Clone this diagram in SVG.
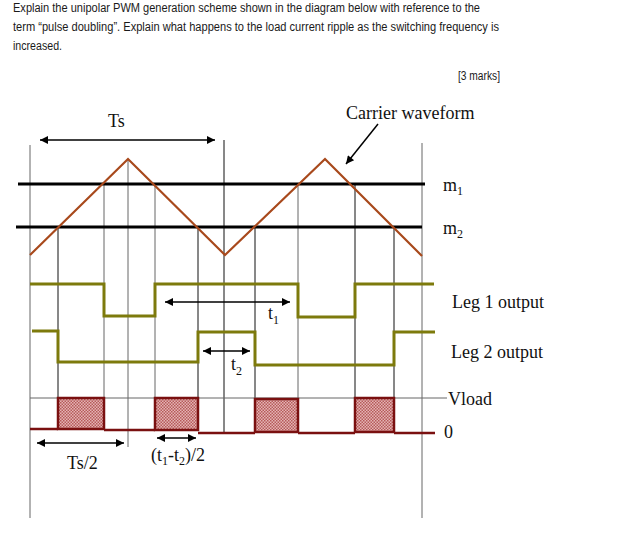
<svg xmlns="http://www.w3.org/2000/svg" width="642" height="546" viewBox="0 0 642 546">
<style>
.hdr{font-family:"Liberation Sans",Arial,sans-serif;font-size:12.5px;fill:#1a1a1a}
.lbl{font-family:"Liberation Serif","Times New Roman",serif;font-size:18px;fill:#111}
.sub{font-size:12px}
.vg{stroke:#666;stroke-width:1;fill:none}
.vb{stroke:#111;stroke-width:1;fill:none}
.mod{stroke:#000;stroke-width:3;fill:none}
.leg{stroke:#7d7a0c;stroke-width:3;fill:none}
.car{stroke:#a8491c;stroke-width:2.2;fill:none}
.arr{stroke:#000;stroke-width:1.5;fill:none;marker-start:url(#ah);marker-end:url(#ah)}
.vl{stroke:#7a1010;stroke-width:2.5;fill:none}
.pulse{fill:url(#dots);stroke:#7a1010;stroke-width:2.5}
</style>
<defs>
<marker id="ah" viewBox="0 0 10 10" refX="10" refY="5" markerWidth="10" markerHeight="8" orient="auto-start-reverse" markerUnits="userSpaceOnUse"><path d="M0,0 L10,5 L0,10 z" fill="#000"/></marker>
<pattern id="dots" width="3" height="3" patternUnits="userSpaceOnUse"><rect width="3" height="3" fill="#e4b4b4"/><rect width="1.5" height="1.5" fill="#b65a5a"/><rect x="1.5" y="1.5" width="1.5" height="1.5" fill="#b65a5a"/></pattern>
</defs>
<rect width="642" height="546" fill="#fff"/>

<g id="question">
<text class="hdr" x="13" y="12" textLength="467" lengthAdjust="spacingAndGlyphs">Explain the unipolar PWM generation scheme shown in the diagram below with reference to the</text>
<text class="hdr" x="13" y="31" textLength="486" lengthAdjust="spacingAndGlyphs">term “pulse doubling”. Explain what happens to the load current ripple as the switching frequency is</text>
<text class="hdr" x="13" y="50" textLength="49" lengthAdjust="spacingAndGlyphs">increased.</text>
<text class="hdr" x="458" y="80" textLength="42" lengthAdjust="spacingAndGlyphs">[3 marks]</text>
</g>

<g id="gridlines">
<line class="vg" x1="30" y1="145" x2="30" y2="518"/>
<line class="vb" x1="58" y1="227" x2="58" y2="398"/>
<line class="vg" x1="104" y1="184" x2="104" y2="398"/>
<line class="vg" x1="128" y1="159" x2="128" y2="447"/>
<line class="vg" x1="155" y1="184" x2="155" y2="398"/>
<line class="vb" x1="198" y1="227" x2="198" y2="398"/>
<line class="vb" x1="224" y1="140" x2="224" y2="433"/>
<line class="vb" x1="255" y1="227" x2="255" y2="398"/>
<line class="vg" x1="298" y1="184" x2="298" y2="398"/>
<line class="vb" x1="355" y1="184" x2="355" y2="398"/>
<line class="vb" x1="394" y1="227" x2="394" y2="398"/>
<line class="vg" x1="422" y1="143" x2="422" y2="518"/>
<line class="vg" x1="30" y1="398" x2="447" y2="398"/>
</g>

<g id="m1">
<line class="mod" x1="18" y1="184" x2="425" y2="184"/>
<text class="lbl" x="443" y="191">m<tspan class="sub" dy="4">1</tspan></text>
</g>
<g id="m2">
<line class="mod" x1="16" y1="227" x2="422" y2="227"/>
<text class="lbl" x="443" y="234">m<tspan class="sub" dy="4">2</tspan></text>
</g>

<g id="carrier">
<path class="car" d="M30,255 L128,159 L225,255 L325,159 L422,256"/>
<text class="lbl" x="346" y="119">Carrier waveform</text>
</g>

<g id="leg1">
<path class="leg" d="M30,284 H104 V316 H155 V284 H298 V317 H355 V284 H434"/>
<text class="lbl" x="452" y="308">Leg 1 output</text>
</g>

<g id="leg2">
<path class="leg" d="M32,331 H58 V362 H198 V332 H255 V365 H394 V332 H435"/>
<text class="lbl" x="451" y="358">Leg 2 output</text>
</g>

<g id="vload">
<rect class="pulse" x="58" y="398" width="46" height="31"/>
<rect class="pulse" x="155" y="398" width="43" height="32"/>
<rect class="pulse" x="255" y="399" width="43" height="33"/>
<rect class="pulse" x="355" y="398" width="39" height="34"/>
<path class="vl" d="M30,429 H58 M104,430 H155 M198,433 H255 M298,433 H355 M394,433 H435"/>
<text class="lbl" x="448" y="405">Vload</text>
<text class="lbl" x="444" y="438">0</text>
</g>

<g id="connectors">
<line class="arr" x1="40" y1="140" x2="215" y2="140"/>
<line class="arr" x1="165" y1="302" x2="290" y2="302"/>
<line class="arr" x1="203" y1="351" x2="250" y2="351"/>
<line class="arr" x1="37" y1="443" x2="124" y2="443"/>
<line class="arr" x1="157" y1="438" x2="196" y2="438"/>
<line x1="378" y1="124" x2="346" y2="164" stroke="#000" stroke-width="1.5" marker-end="url(#ah)"/>
</g>

<g id="labels">
<text class="lbl" x="108" y="127">Ts</text>
<text class="lbl" x="268" y="319">t<tspan class="sub" dy="5">1</tspan></text>
<text class="lbl" x="231" y="370">t<tspan class="sub" dy="5">2</tspan></text>
<text class="lbl" x="67" y="469">Ts/2</text>
<text class="lbl" x="151" y="461">(t<tspan class="sub" dy="4">1</tspan><tspan dy="-4">-t</tspan><tspan class="sub" dy="4">2</tspan><tspan dy="-4">)/2</tspan></text>
</g>
</svg>
